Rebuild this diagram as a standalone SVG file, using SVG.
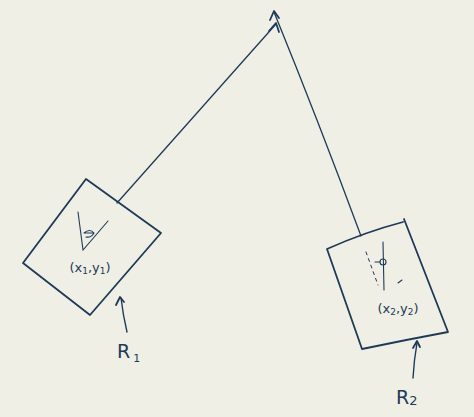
<svg xmlns="http://www.w3.org/2000/svg" width="474" height="417" viewBox="0 0 474 417">
<style>
.ink{fill:none;stroke:#1f3a56;stroke-width:1.8;stroke-linecap:round;stroke-linejoin:round}
.thin{fill:none;stroke:#1f3a56;stroke-width:1.1;stroke-linecap:round}
.dash{fill:none;stroke:#1f3a56;stroke-width:1;stroke-dasharray:3 4;stroke-linecap:round}
.lbl{font-family:"DejaVu Sans","Liberation Sans",sans-serif;fill:#1f3a56;font-size:13px}
.big{font-family:"DejaVu Sans","Liberation Sans",sans-serif;fill:#1f3a56;font-size:19px}
</style>
<rect width="474" height="417" fill="#efefe6"/>
<g id="connectors">
  <path class="ink" d="M117,203 Q192,118 276,24" style="stroke-width:1.3"/>
  <path class="ink" d="M269,31 L276,23 L279,32"/>
  <path class="ink" d="M361,236 Q318,120 274,12" style="stroke-width:1.3"/>
  <path class="ink" d="M270,20 L274,11 L279,18"/>
  <path class="ink" d="M127,332 Q123,315 121,298" style="stroke-width:1.4"/>
  <path class="ink" d="M116,305 L120,297 L124,302"/>
  <path class="ink" d="M413,378 Q414,360 417,343" style="stroke-width:1.4"/>
  <path class="ink" d="M413,348 L417,341 L420,347"/>
</g>
<g id="R1">
  <path class="ink" d="M86,179 L161,233 L90,315 L23,263 Z"/>
  <path class="thin" d="M78,212 L83,250 L108,221"/>
  <path class="thin" d="M84,233 Q90,228 94,233 Q91,238 86,237 M85,233 L93,233"/>
  <text class="lbl" x="90" y="272" text-anchor="middle">(x<tspan font-size="9" dy="2">1</tspan><tspan dy="-2">,y</tspan><tspan font-size="9" dy="2">1</tspan><tspan dy="-2">)</tspan></text>
</g>
<g id="R2">
  <path class="ink" d="M327,249 Q365,232 403,222 M404,219 Q428,280 448,332 M448,332 Q405,340 362,349 M327,249 Q345,300 362,349"/>
  <path class="thin" d="M383,242 L384,290"/>
  <path class="dash" d="M366,252 L378,285"/>
  <circle class="thin" cx="383" cy="262" r="3"/>
  <path class="thin" d="M375,262 L380,262 M398,283 L402,280"/>
  <text class="lbl" x="398" y="313" text-anchor="middle">(x<tspan font-size="9" dy="2">2</tspan><tspan dy="-2">,y</tspan><tspan font-size="9" dy="2">2</tspan><tspan dy="-2">)</tspan></text>
</g>
<g id="label-R1">
  <text class="big" x="117" y="358">R<tspan font-size="11" dx="3" dy="4">1</tspan></text>
</g>
<g id="label-R2">
  <text class="big" x="396" y="404">R<tspan font-size="13" dy="1">2</tspan></text>
</g>
</svg>
